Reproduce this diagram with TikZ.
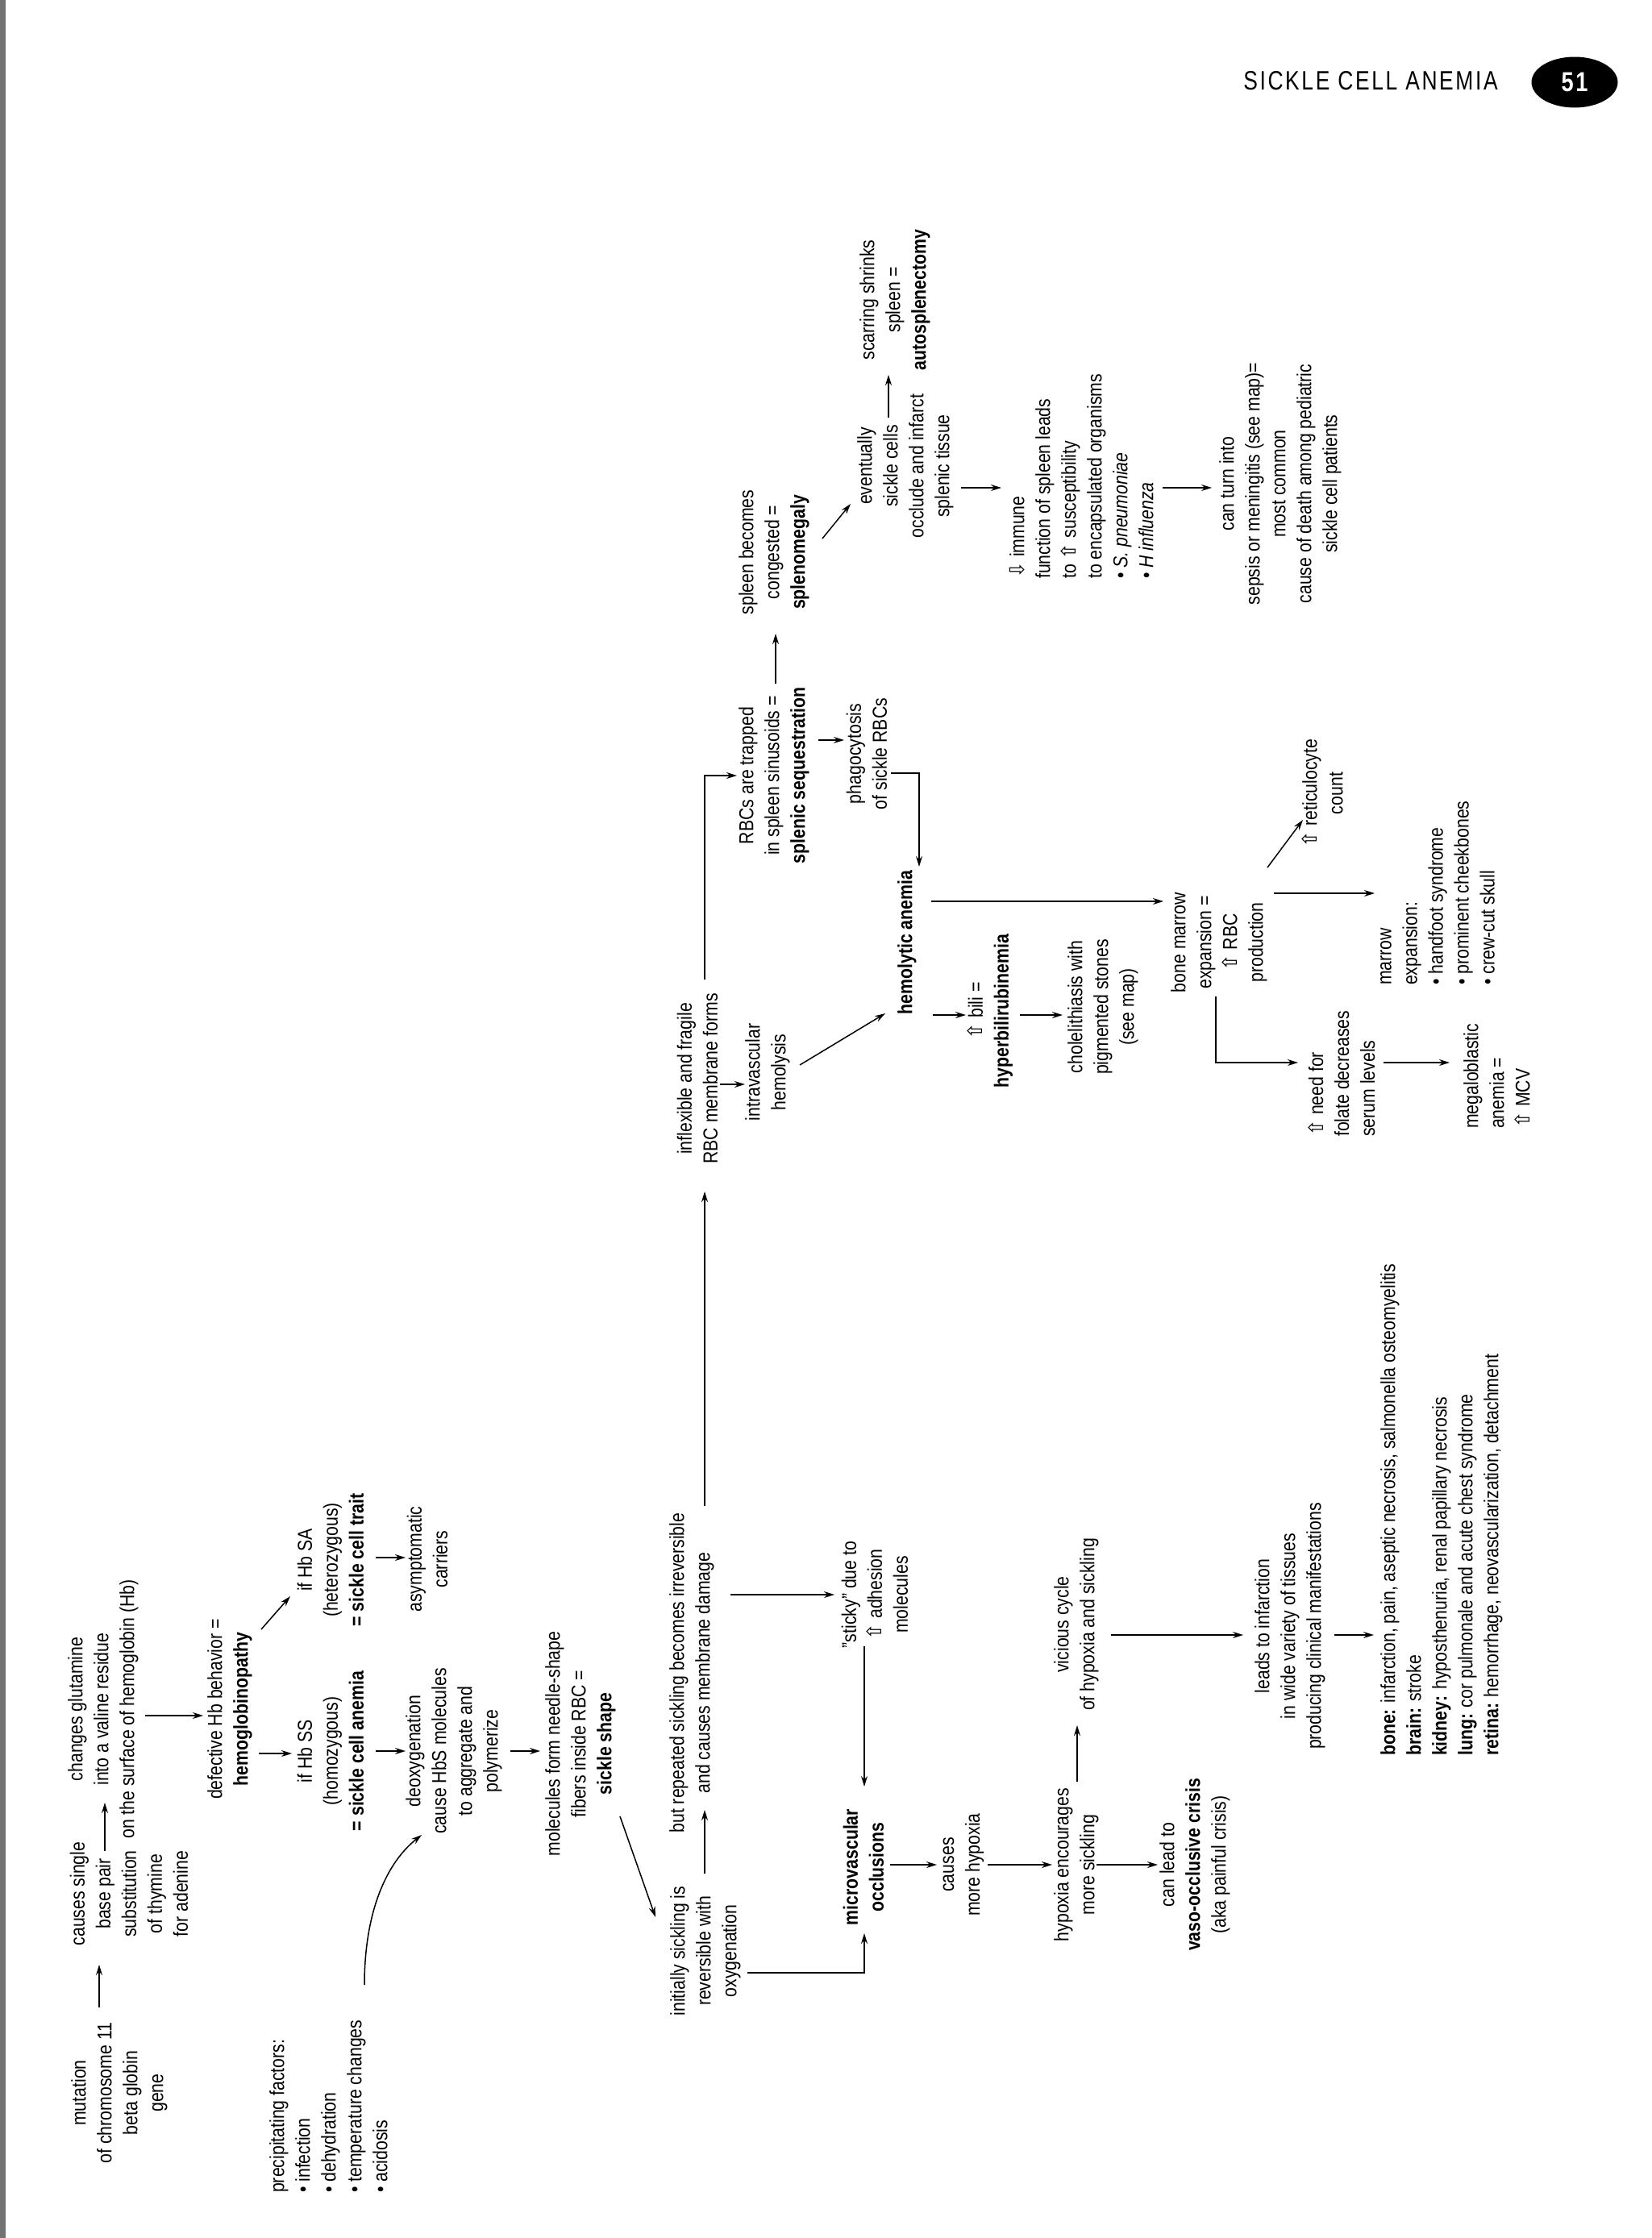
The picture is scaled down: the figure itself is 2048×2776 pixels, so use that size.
\documentclass[tikz,border=0pt]{standalone}
\usepackage{fontspec}
\setmainfont{Liberation Sans}[FakeStretch=0.85]
\newfontfamily\symf{DejaVu Sans}
\newfontfamily\headf{Liberation Sans}[FakeStretch=0.8,LetterSpace=8]
\newcommand\myup{{\symf ⇧}}
\newcommand\mydn{{\symf ⇩}}
\usetikzlibrary{arrows.meta,shapes.geometric}
\begin{document}
\begin{tikzpicture}[x=1pt,y=-1pt,
  t/.style={rotate=90,align=center,inner sep=0pt,font=\fontsize{25}{32}\selectfont},
  tl/.style={t,align=left,anchor=north west},
  arr/.style={-{Stealth[length=13pt,width=8pt]},line width=1.5pt},
  ln/.style={line width=1.5pt}]
\useasboundingbox (0,0) rectangle (2048,2776);
\fill[black!55] (0,0) rectangle (7,2776);
% header
\node[font=\headf\fontsize{33}{36}\selectfont,inner sep=0pt] (hdr) at (1700,100) {SICKLE CELL ANEMIA};
\node[ellipse,fill=black,minimum width=107pt,minimum height=63pt,inner sep=0pt,text=white,font=\headf\bfseries\fontsize{34}{36}\selectfont] (pg) at (1953,102) {51};
% nodes
\node[t] (mut) at (148,2596) {mutation\\of chromosome 11\\beta globin\\gene};
\node[t] (cau) at (160,2349) {causes single\\base pair\\substitution\\of thymine\\for adenine};
\node[t] (chg) at (128,2120) {changes glutamine\\into a valine residue\\on the surface of hemoglobin (Hb)};
\node[t] (def) at (285,2120) {defective Hb behavior =\\\textbf{hemoglobinopathy}};
\node[t] (ss) at (410,2172) {if Hb SS\\(homozygous)\\\textbf{= sickle cell anemia}};
\node[t] (sa) at (410,1935) {if Hb SA\\(heterozygous)\\\textbf{= sickle cell trait}};
\node[t] (asy) at (530,1934) {asymptomatic\\carriers};
\node[t] (deo) at (563,2172) {deoxygenation\\cause HbS molecules\\to aggregate and\\polymerize};
\node[t] (mol) at (720,2163) {molecules form needle-shape\\fibers inside RBC =\\\textbf{sickle shape}};
\node[tl] (prec) at (334,2720) {precipitating factors:\\• infection\\• dehydration\\• temperature changes\\• acidosis};
\node[t] (ini) at (875,2420) {initially sickling is\\reversible with\\oxygenation};
\node[t] (rep) at (858,2075) {but repeated sickling becomes irreversible\\and causes membrane damage};
\node[t] (stk) at (1085,1978) {"sticky" due to\\\myup\ adhesion\\molecules};
\node[t] (mic) at (1071,2316) {\textbf{microvascular}\\\textbf{occlusions}};
\node[t] (cmh) at (1195,2313) {causes\\more hypoxia};
\node[t] (hyp) at (1335,2313) {hypoxia encourages\\more sickling};
\node[t] (vas) at (1482,2313) {can lead to\\\textbf{vaso-occlusive crisis}\\(aka painful crisis)};
\node[t] (vic) at (1335,2015) {vicious cycle\\of hypoxia and sickling};
\node[t] (lea) at (1600,2017) {leads to infarction\\in wide variety of tissues\\producing clinical manifestations};
\node[tl] (org) at (1712,2178) {\textbf{bone:} infarction, pain, aseptic necrosis, salmonella osteomyelitis\\\textbf{brain:} stroke\\\textbf{kidney:} hyposthenuria, renal papillary necrosis\\\textbf{lung:} cor pulmonale and acute chest syndrome\\\textbf{retina:} hemorrhage, neovascularization, detachment};
\node[t] (inf) at (865,1338) {inflexible and fragile\\RBC membrane forms};
\node[t] (itr) at (952,1330) {intravascular\\hemolysis};
\node[t] (hem) at (1125,1169) {\textbf{hemolytic anemia}};
\node[t] (bil) at (1228,1254) {\myup\ bili =\\\textbf{hyperbilirubinemia}};
\node[t] (cho) at (1368,1249) {cholelithiasis with\\pigmented stones\\(see map)};
\node[t] (bm) at (1512,1169) {bone marrow\\expansion =\\\myup\ RBC\\production};
\node[t] (ret) at (1640,984) {\myup\ reticulocyte\\count};
\node[tl] (mex) at (1712,1222) {marrow\\expansion:\\• handfoot syndrome\\• prominent cheekbones\\• crew-cut skull};
\node[tl] (fol) at (1622,1410) {\myup\ need for\\folate decreases\\serum levels};
\node[tl] (meg) at (1815,1400) {megaloblastic\\anemia =\\\myup\ MCV};
\node[t] (trp) at (960,962) {RBCs are trapped\\in spleen sinusoids =\\\textbf{splenic sequestration}};
\node[t] (pha) at (1075,935) {phagocytosis\\of sickle RBCs};
\node[t] (spl) at (960,685) {spleen becomes\\congested =\\\textbf{splenomegaly}};
\node[t] (evt) at (1123,578) {eventually\\sickle cells\\occlude and infarct\\splenic tissue};
\node[t] (scr) at (1110,372) {scarring shrinks\\spleen =\\\textbf{autosplenectomy}};
\node[tl] (imm) at (1252,718) {\mydn\ immune\\function of spleen leads\\to \myup\ susceptibility\\to encapsulated organisms\\• \textit{S. pneumoniae}\\• \textit{H influenza}};
\node[t] (ctn) at (1588,600) {can turn into\\sepsis or meningitis (see map)=\\most common\\cause of death among pediatric\\sickle cell patients};
% connectors
\draw[arr] (123,2490) -- (123,2437);
\draw[arr] (130,2296) -- (130,2236);
\draw[arr] (180,2128) -- (252,2128);
\draw[arr] (321,2175) -- (362,2175);
\draw[arr] (324,2021) -- (360,1980);
\draw[arr] (466,1932) -- (503,1932);
\draw[arr] (466,2172) -- (503,2172);
\draw[arr] (633,2172) -- (670,2172);
\draw[arr] (452,2462) .. controls (452,2370) and (480,2310) .. (523,2276);
\draw[arr] (769,2253) -- (813,2378);
\draw[arr] (874,2324) -- (874,2245);
\draw[arr] (874,1868) -- (874,1478);
\draw[arr] (874,1215) -- (874,962) -- (914,962);
\draw[arr] (893,1345) -- (924,1345);
\draw[arr] (992,1321) -- (1098,1257);
\draw[arr] (1157,1259) -- (1198,1259);
\draw[arr] (1265,1259) -- (1318,1259);
\draw[arr] (1155,1118) -- (1443,1118);
\draw[arr] (1572,1076) -- (1616,1017);
\draw[arr] (1580,1108) -- (1705,1108);
\draw[arr] (1508,1236) -- (1508,1318) -- (1610,1318);
\draw[arr] (1716,1318) -- (1798,1318);
\draw[arr] (1015,918) -- (1047,918);
\draw[arr] (1105,959) -- (1140,959) -- (1140,1075);
\draw[arr] (962,848) -- (962,786);
\draw[arr] (1020,668) -- (1055,625);
\draw[arr] (1102,518) -- (1102,465);
\draw[arr] (1192,605) -- (1242,605);
\draw[arr] (1442,605) -- (1503,605);
\draw[arr] (906,1978) -- (1035,1978);
\draw[arr] (1072,2042) -- (1072,2216);
\draw[arr] (927,2447) -- (1072,2447) -- (1072,2398);
\draw[arr] (1104,2313) -- (1162,2313);
\draw[arr] (1225,2313) -- (1305,2313);
\draw[arr] (1360,2313) -- (1436,2313);
\draw[arr] (1336,2210) -- (1336,2140);
\draw[arr] (1378,2028) -- (1542,2028);
\draw[arr] (1655,2028) -- (1704,2028);
\end{tikzpicture}
\end{document}
